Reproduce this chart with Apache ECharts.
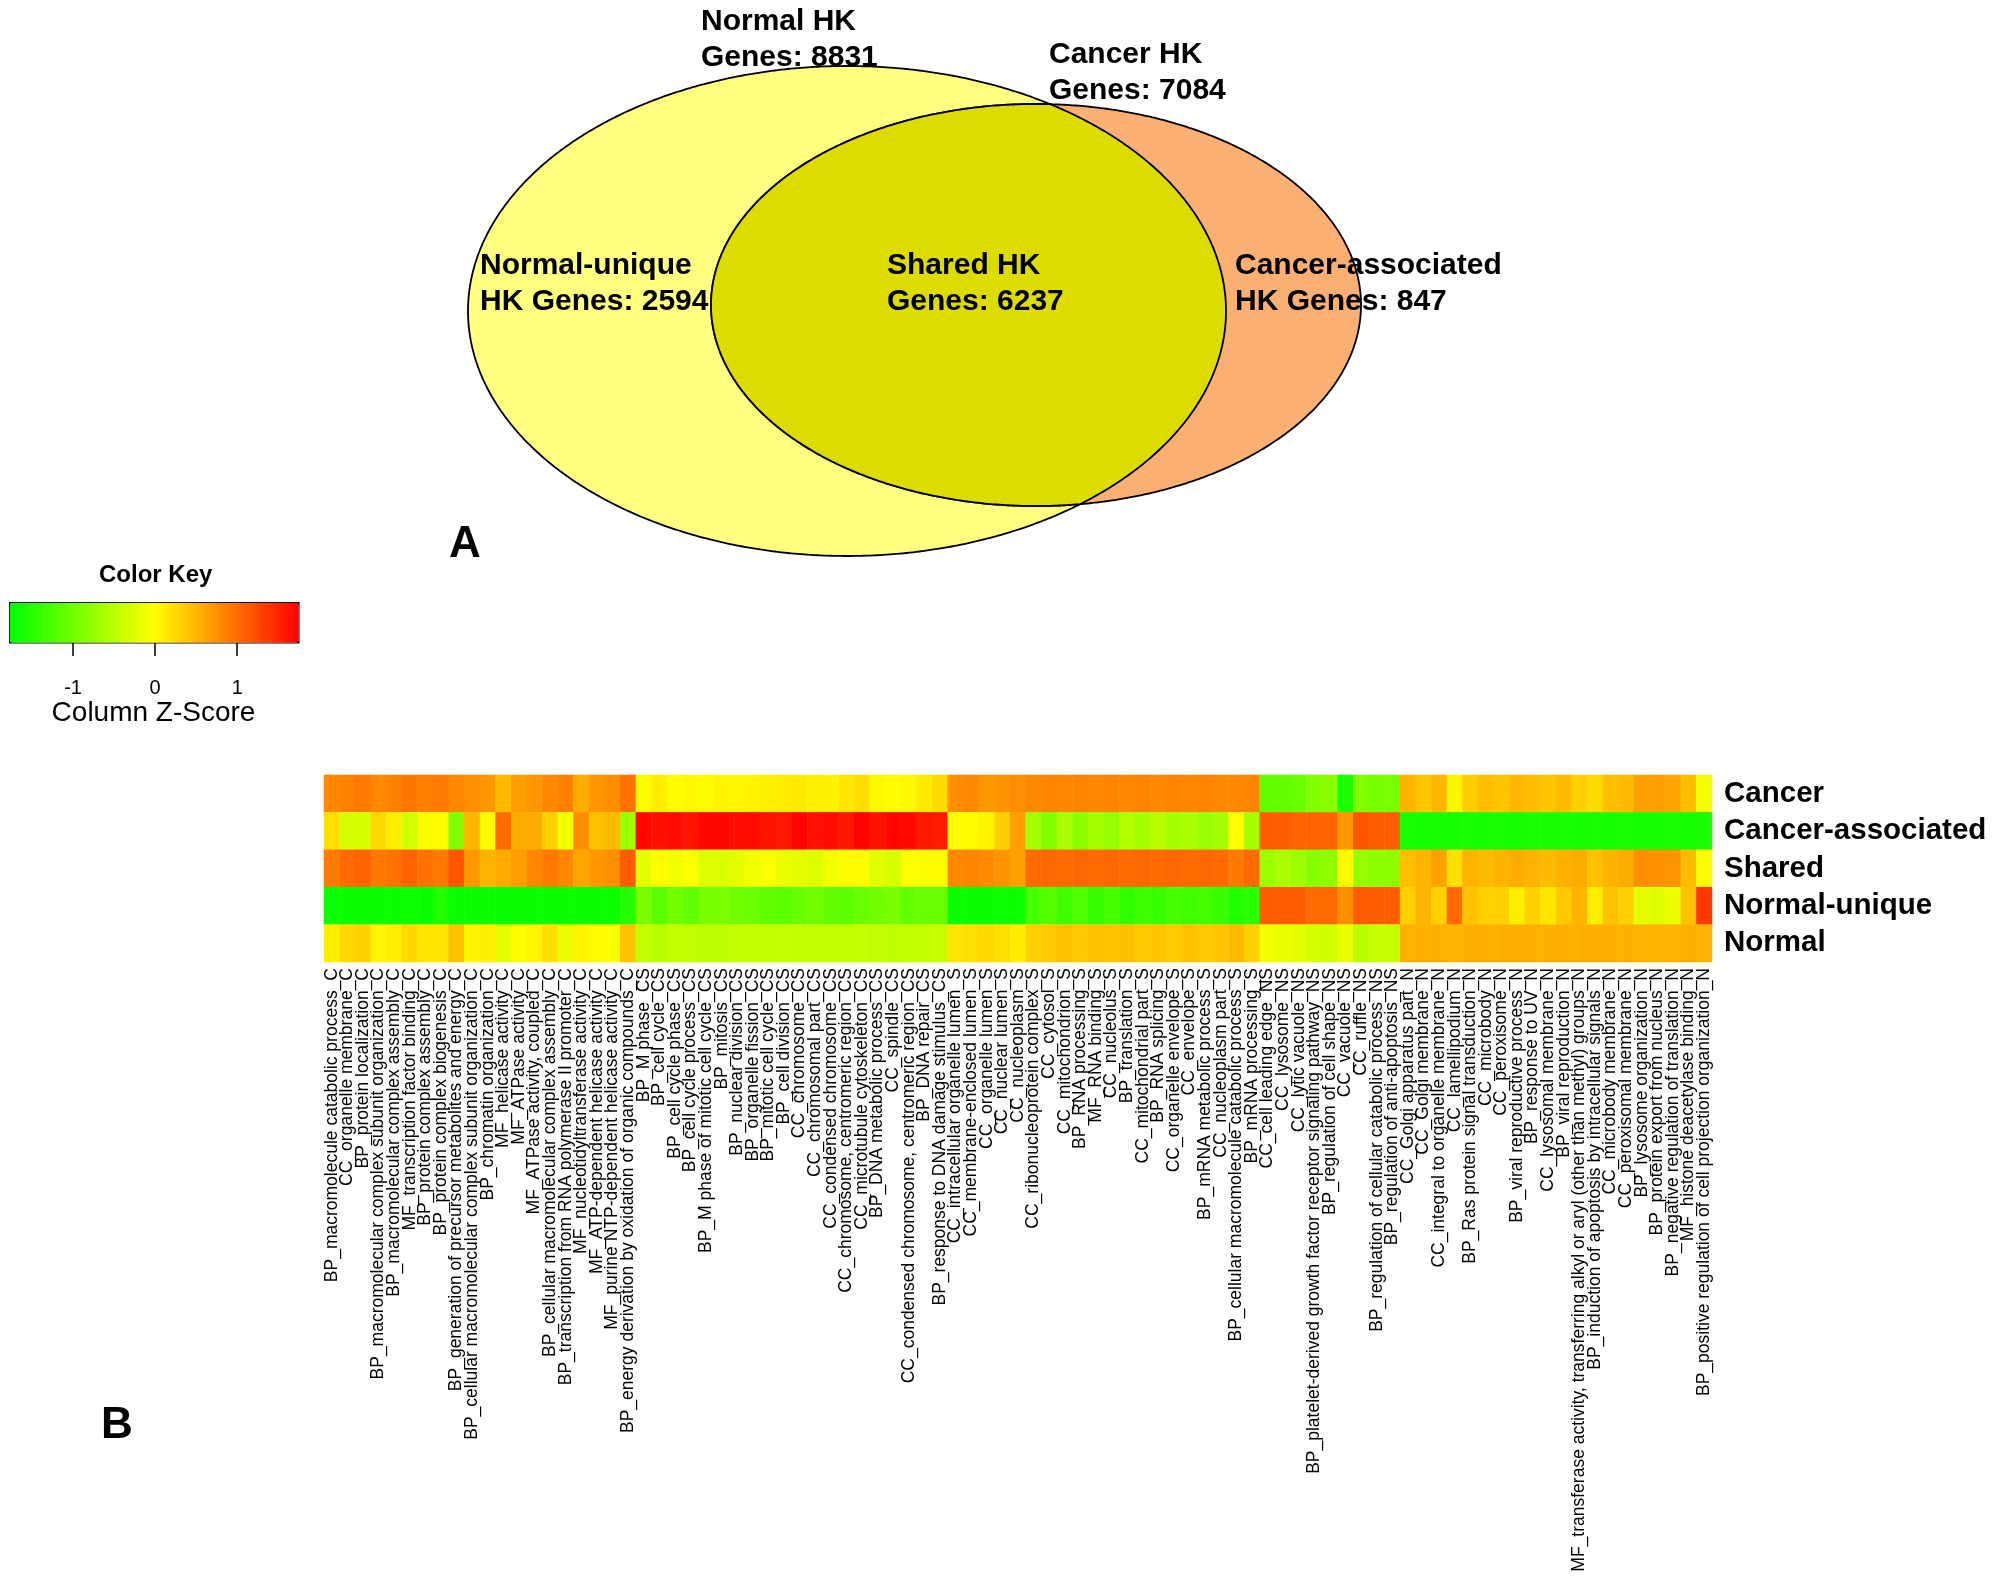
<!DOCTYPE html>
<html><head><meta charset="utf-8">
<script src="https://cdn.jsdelivr.net/npm/echarts@6/dist/echarts.min.js"></script>
<style>html,body{margin:0;padding:0;background:#fff}#c{width:2000px;height:1583px}</style>
</head><body><div id="c"></div>
<script>
// ---------- DATA ----------
const rowNames = ['Cancer','Cancer-associated','Shared','Normal-unique','Normal'];
const categories = [
 'BP_macromolecule catabolic process_C','CC_organelle membrane_C','BP_protein localization_C',
 'BP_macromolecular complex subunit organization_C','BP_macromolecular complex assembly_C',
 'MF_transcription factor binding_C','BP_protein complex assembly_C','BP_protein complex biogenesis_C',
 'BP_generation of precursor metabolites and energy_C','BP_cellular macromolecular complex subunit organization_C',
 'BP_chromatin organization_C','MF_helicase activity_C','MF_ATPase activity_C','MF_ATPase activity, coupled_C',
 'BP_cellular macromolecular complex assembly_C','BP_transcription from RNA polymerase II promoter_C',
 'MF_nucleotidyltransferase activity_C','MF_ATP-dependent helicase activity_C',
 'MF_purine NTP-dependent helicase activity_C','BP_energy derivation by oxidation of organic compounds_C',
 'BP_M phase_CS','BP_cell cycle_CS','BP_cell cycle phase_CS','BP_cell cycle process_CS',
 'BP_M phase of mitotic cell cycle_CS','BP_mitosis_CS','BP_nuclear division_CS','BP_organelle fission_CS',
 'BP_mitotic cell cycle_CS','BP_cell division_CS','CC_chromosome_CS','CC_chromosomal part_CS',
 'CC_condensed chromosome_CS','CC_chromosome, centromeric region_CS','CC_microtubule cytoskeleton_CS',
 'BP_DNA metabolic process_CS','CC_spindle_CS','CC_condensed chromosome, centromeric region_CS',
 'BP_DNA repair_CS','BP_response to DNA damage stimulus_CS',
 'CC_intracellular organelle lumen_S','CC_membrane-enclosed lumen_S','CC_organelle lumen_S',
 'CC_nuclear lumen_S','CC_nucleoplasm_S','CC_ribonucleoprotein complex_S','CC_cytosol_S',
 'CC_mitochondrion_S','BP_RNA processing_S','MF_RNA binding_S','CC_nucleolus_S','BP_translation_S',
 'CC_mitochondrial part_S','BP_RNA splicing_S','CC_organelle envelope_S','CC_envelope_S',
 'BP_mRNA metabolic process_S','CC_nucleoplasm part_S','BP_cellular macromolecule catabolic process_S',
 'BP_mRNA processing_S',
 'CC_cell leading edge_NS','CC_lysosome_NS','CC_lytic vacuole_NS',
 'BP_platelet-derived growth factor receptor signaling pathway_NS','BP_regulation of cell shape_NS',
 'CC_vacuole_NS','CC_ruffle_NS','BP_regulation of cellular catabolic process_NS',
 'BP_regulation of anti-apoptosis_NS',
 'CC_Golgi apparatus part_N','CC_Golgi membrane_N','CC_integral to organelle membrane_N',
 'CC_lamellipodium_N','BP_Ras protein signal transduction_N','CC_microbody_N','CC_peroxisome_N',
 'BP_viral reproductive process_N','BP_response to UV_N','CC_lysosomal membrane_N','BP_viral reproduction_N',
 'MF_transferase activity, transferring alkyl or aryl (other than methyl) groups_N',
 'BP_induction of apoptosis by intracellular signals_N','CC_microbody membrane_N',
 'CC_peroxisomal membrane_N','BP_lysosome organization_N','BP_protein export from nucleus_N',
 'BP_negative regulation of translation_N','MF_histone deacetylase binding_N',
 'BP_positive regulation of cell projection organization_N'
];
const cancer = [
 0.80,0.85,0.90,0.80,0.85,0.92,0.85,0.90,0.80,0.75,0.70,0.45,0.65,0.70,0.80,0.85,0.55,0.70,0.75,0.95,
 0.00,0.10,0.00,0.02,0.00,0.05,0.03,0.05,0.08,0.10,0.12,0.08,0.05,0.15,0.20,0.02,0.00,0.03,0.12,0.22,
 0.75,0.80,0.70,0.72,0.75,0.80,0.82,0.80,0.82,0.80,0.82,0.80,0.82,0.80,0.82,0.80,0.82,0.80,0.80,0.82,
 -1.10,-1.10,-1.05,-0.90,-0.85,-1.60,-0.90,-0.95,-0.95,
 0.50,0.38,0.48,0.05,0.32,0.42,0.38,0.48,0.42,0.38,0.45,0.30,0.22,0.42,0.45,0.65,0.65,0.60,0.42,-0.10
];
const cancerAssociated = [
 0.20,-0.30,-0.30,0.25,0.10,-0.35,0.00,0.00,-0.90,0.50,0.00,1.00,0.55,0.55,0.30,-0.10,0.75,0.40,0.45,-0.70,
 1.68,1.62,1.66,1.60,1.70,1.70,1.65,1.66,1.60,1.58,1.70,1.62,1.66,1.58,1.72,1.62,1.70,1.68,1.58,1.55,
 0.00,0.00,0.05,0.30,0.65,-0.65,-0.90,-0.60,-0.80,-0.65,-0.75,-0.55,-0.65,-0.50,-0.65,-0.60,-0.70,-0.65,-0.05,-0.65,
 1.10,1.10,1.05,1.05,1.05,0.70,1.15,1.10,1.10,
 -1.62,-1.63,-1.62,-1.64,-1.62,-1.63,-1.62,-1.63,-1.62,-1.63,-1.62,-1.63,-1.62,-1.63,-1.62,-1.64,-1.63,-1.62,-1.63,-1.60
];
const shared = [
 0.90,1.00,1.05,0.90,0.95,1.05,0.95,0.90,1.15,0.70,0.50,0.55,0.65,0.80,0.90,0.80,0.60,0.70,0.75,1.10,
 -0.20,0.00,-0.12,-0.05,-0.25,-0.25,-0.20,-0.10,-0.05,-0.15,-0.20,-0.25,-0.10,0.00,0.00,-0.22,-0.30,-0.05,0.00,0.00,
 0.80,0.82,0.78,0.72,0.62,1.00,1.02,1.00,1.02,1.00,1.02,1.00,1.02,1.00,1.02,1.00,1.02,1.00,0.90,1.00,
 -0.70,-0.60,-0.70,-0.85,-0.80,0.00,-0.75,-0.80,-0.80,
 0.42,0.50,0.62,0.20,0.50,0.45,0.50,0.55,0.50,0.45,0.52,0.55,0.40,0.50,0.55,0.75,0.72,0.72,0.45,0.00
];
const normalUnique = [
 -1.70,-1.72,-1.72,-1.72,-1.72,-1.70,-1.72,-1.55,-1.72,-1.72,-1.72,-1.72,-1.72,-1.72,-1.72,-1.72,-1.72,-1.72,-1.70,-1.55,
 -0.95,-1.15,-1.00,-1.10,-0.95,-0.95,-1.00,-1.05,-1.10,-1.15,-1.05,-1.00,-1.10,-1.15,-1.05,-1.00,-0.95,-1.10,-1.05,-1.05,
 -1.72,-1.72,-1.72,-1.70,-1.68,-1.30,-1.20,-1.35,-1.25,-1.40,-1.30,-1.45,-1.35,-1.40,-1.30,-1.35,-1.30,-1.40,-1.55,-1.50,
 1.10,1.10,1.10,1.00,1.00,0.75,1.10,1.10,1.10,
 0.30,0.50,0.30,1.00,0.40,0.30,0.30,0.10,0.30,0.15,0.35,0.50,0.10,0.40,0.30,-0.20,-0.25,-0.15,0.40,1.35
];
const normal = [
 0.10,0.25,0.30,0.05,0.10,0.25,0.15,0.15,0.40,0.05,0.10,-0.20,0.00,0.05,0.20,-0.15,0.05,0.00,-0.05,0.40,
 -0.45,-0.50,-0.45,-0.45,-0.48,-0.48,-0.45,-0.45,-0.45,-0.42,-0.45,-0.45,-0.45,-0.45,-0.42,-0.45,-0.48,-0.45,-0.45,-0.40,
 0.15,0.20,0.25,0.20,0.10,0.30,0.35,0.40,0.35,0.40,0.38,0.42,0.35,0.38,0.33,0.40,0.35,0.38,0.45,0.30,
 -0.10,-0.15,-0.20,-0.30,-0.35,-0.15,-0.50,-0.40,-0.40,
 0.52,0.52,0.52,0.50,0.52,0.52,0.52,0.52,0.52,0.52,0.52,0.52,0.52,0.52,0.52,0.50,0.50,0.50,0.52,0.50
];
const keyTicks = [-1, 0, 1];
const vennSets = ['Normal HK', 'Cancer HK'];
const vennTotals = [8831, 7084];
const vennRegions = ['Normal-unique\nHK Genes: ', 'Shared HK\nGenes: ', 'Cancer-associated\nHK Genes: '];
const vennCounts = [2594, 6237, 847];

// ---------- LAYOUT (diagram geometry, in the hidden venn grid units) ----------
const VENN = {
  normal: {cx: 847, cy: 311, rx: 379, ry: 245},
  cancer: {cx: 1036, cy: 305, rx: 325, ry: 201},
  setLabels: [[701, 4], [1049, 37]],
  regionLabels: [[480, 248], [887, 248], [1235, 248]]
};
const FONT = 'Liberation Sans, Arial, Helvetica, sans-serif';

const rows = [cancer, cancerAssociated, shared, normalUnique, normal];
const heatData = [];
rows.forEach((r, yi) => r.forEach((v, xi) => heatData.push([xi, yi, v])));

function ellipsePts(e, t0, t1, n) {
  const pts = [];
  for (let i = 0; i <= n; i++) {
    const t = t0 + (t1 - t0) * i / n;
    pts.push([e.cx + e.rx * Math.cos(t), e.cy + e.ry * Math.sin(t)]);
  }
  return pts;
}
function inside(e, p) {
  return ((p[0] - e.cx) / e.rx) ** 2 + ((p[1] - e.cy) / e.ry) ** 2 <= 1;
}

function renderVenn(params, api) {
  const N = 720;
  const nPts = ellipsePts(VENN.normal, 0, 2 * Math.PI, N);
  const cPts = ellipsePts(VENN.cancer, 0, 2 * Math.PI, N);
  const ov = ellipsePts(VENN.cancer, 0, 2 * Math.PI, N).filter(p => inside(VENN.normal, p))
    .concat(ellipsePts(VENN.normal, -Math.PI, Math.PI, N).filter(p => inside(VENN.cancer, p)));
  const map = pts => pts.map(p => api.coord(p));
  const stroke = {stroke: '#000', lineWidth: 1.8};
  const children = [
    {type: 'polygon', shape: {points: map(nPts)}, style: Object.assign({fill: '#FFFF80'}, stroke)},
    {type: 'polygon', shape: {points: map(cPts)}, style: Object.assign({fill: '#FAB072'}, stroke)},
    {type: 'polygon', shape: {points: map(ov)}, style: Object.assign({fill: '#DCDC00'}, stroke)}
  ];
  vennSets.forEach((s, i) => {
    const p = api.coord(VENN.setLabels[i]);
    children.push({type: 'text', style: {text: s + '\nGenes: ' + vennTotals[i], x: p[0], y: p[1],
      fill: '#000', font: 'bold 30px ' + FONT, lineHeight: 36, align: 'left', verticalAlign: 'top'}});
  });
  vennRegions.forEach((s, i) => {
    const p = api.coord(VENN.regionLabels[i]);
    children.push({type: 'text', style: {text: s + vennCounts[i], x: p[0], y: p[1],
      fill: '#000', font: 'bold 30px ' + FONT, lineHeight: 36, align: 'left', verticalAlign: 'top'}});
  });
  return {type: 'group', children};
}

const chart = echarts.init(document.getElementById('c'), null, {renderer: 'canvas'});
chart.setOption({
  backgroundColor: '#fff',
  animation: false,
  textStyle: {fontFamily: FONT},
  grid: [
    {left: 324, top: 775, width: 1388, height: 187},
    {left: 9, top: 602, width: 289, height: 40},
    {left: 0, top: 0, width: 2000, height: 1583}
  ],
  xAxis: [
    {type: 'category', gridIndex: 0, data: categories, axisLine: {show: false}, axisTick: {show: false},
     splitLine: {show: false},
     axisLabel: {rotate: 90, interval: 0, fontSize: 17.5, color: '#000', margin: 6, fontFamily: FONT}},
    {type: 'value', gridIndex: 1, min: -1.78, max: 1.74, axisLine: {show: false}, splitLine: {show: false},
     axisTick: {show: true, customValues: keyTicks, length: 14, lineStyle: {color: '#000', width: 1.5}},
     axisLabel: {customValues: keyTicks, fontSize: 20, color: '#000', margin: 36, fontFamily: FONT},
     name: 'Column Z-Score', nameLocation: 'middle', nameGap: 56,
     nameTextStyle: {fontSize: 28, color: '#000', fontFamily: FONT}},
    {type: 'value', gridIndex: 2, min: 0, max: 2000, show: false}
  ],
  yAxis: [
    {type: 'category', gridIndex: 0, data: rowNames, inverse: true, position: 'right',
     axisLine: {show: false}, axisTick: {show: false}, splitLine: {show: false},
     axisLabel: {interval: 0, hideOverlap: false, fontSize: 29.5, fontWeight: 'bold', color: '#000',
                 margin: 12, fontFamily: FONT}},
    {type: 'value', gridIndex: 1, min: 0, max: 1, show: false},
    {type: 'value', gridIndex: 2, min: 0, max: 1583, inverse: true, show: false}
  ],
  visualMap: {
    type: 'continuous', seriesIndex: 0, min: -1.78, max: 1.74,
    inRange: {color: ['#00FF00', '#FFFF00', '#FF0000']},
    orient: 'horizontal', left: 9, top: 602, itemWidth: 40, itemHeight: 289,
    calculable: false, hoverLink: false, padding: 0, borderColor: '#000', borderWidth: 1.5,
    textStyle: {fontSize: 1, color: 'rgba(0,0,0,0)'}
  },
  graphic: [
    {type: 'text', left: 99, top: 563, style: {text: 'Color Key', font: 'bold 24px ' + FONT, fill: '#000'}},
    {type: 'text', left: 449, top: 523, style: {text: 'A', font: 'bold 44px ' + FONT, fill: '#000'}},
    {type: 'text', left: 101, top: 1404, style: {text: 'B', font: 'bold 44px ' + FONT, fill: '#000'}}
  ],
  series: [
    {type: 'heatmap', xAxisIndex: 0, yAxisIndex: 0, data: heatData, emphasis: {disabled: true}, progressive: 0},
    {type: 'custom', xAxisIndex: 2, yAxisIndex: 2, data: [[0, 0]], clip: false, silent: true,
     renderItem: renderVenn, z: 1}
  ]
});
</script>
</body></html>
